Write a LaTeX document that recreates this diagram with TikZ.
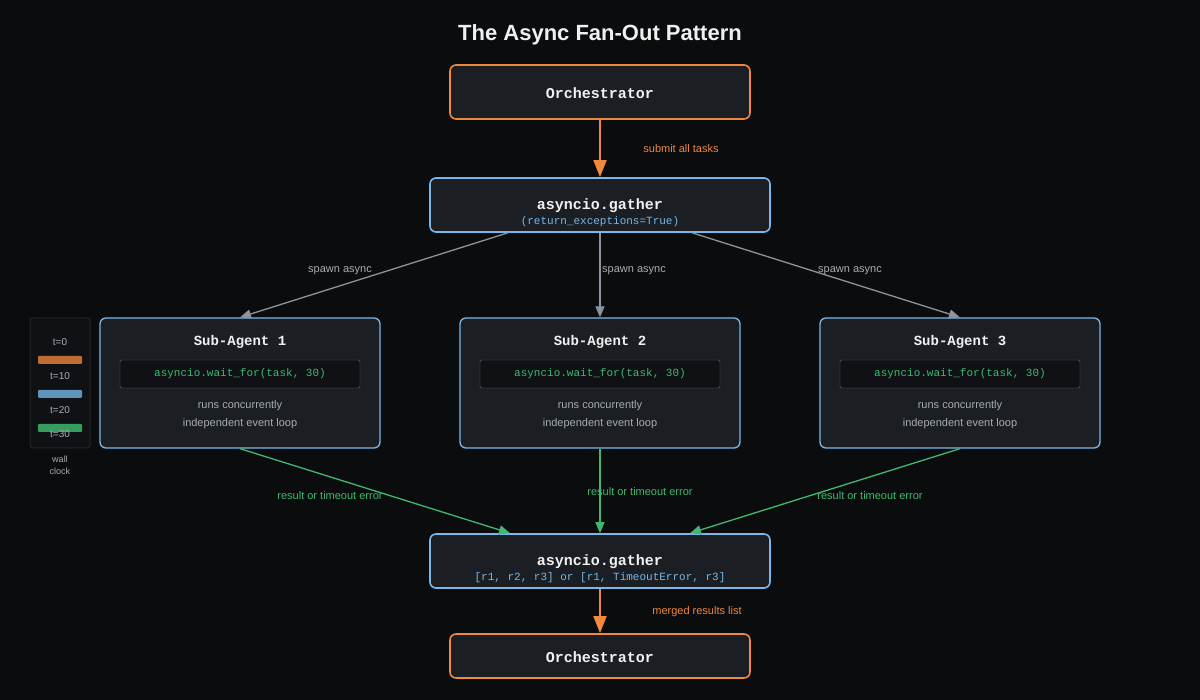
\documentclass[tikz,border=0pt]{standalone}
\usepackage{fontspec}
\setmainfont{Liberation Sans}
\setmonofont{Liberation Mono}
\usetikzlibrary{arrows.meta,calc}
\definecolor{bg}{HTML}{0B0C0E}
\definecolor{boxf}{HTML}{1B1E23}
\definecolor{codef}{HTML}{0F1114}
\definecolor{org}{HTML}{F0883E}
\definecolor{blu}{HTML}{79B8E8}
\definecolor{grn}{HTML}{3FB970}
\definecolor{gry}{HTML}{8B949E}
\definecolor{txt}{HTML}{F0F0F0}
\definecolor{sub}{HTML}{A8ADB3}
\begin{document}
\begin{tikzpicture}[x=1pt,y=-1pt,
 box/.style={draw,line width=1.6pt,rounded corners=6pt,fill=boxf,inner sep=0pt},
 obox/.style={box,draw=org,minimum width=300pt,minimum height=54pt},
 gbox/.style={box,draw=blu,minimum width=340pt,minimum height=54pt},
 abox/.style={box,draw=blu,line width=1.3pt,minimum width=280pt,minimum height=130pt},
 cbox/.style={fill=codef,draw=black!60,rounded corners=2pt,minimum width=240pt,minimum height=28pt,inner sep=0pt,font=\ttfamily\fontsize{11}{11}\selectfont,text=grn},
 mt/.style={font=\ttfamily\bfseries\fontsize{15}{15}\selectfont,text=txt},
 agt/.style={font=\ttfamily\bfseries\fontsize{14}{14}\selectfont,text=txt},
 st/.style={font=\ttfamily\fontsize{11}{11}\selectfont,text=blu},
 gt/.style={font=\fontsize{11}{11}\selectfont,text=sub},
 lab/.style={font=\fontsize{11}{11}\selectfont},
 oarr/.style={org,line width=1.8pt,-{Triangle[length=17pt,width=13pt]}},
 garr/.style={gry,line width=1.3pt,-{Triangle[length=11pt,width=9pt]}},
 rarr/.style={grn,line width=1.3pt,-{Triangle[length=11pt,width=9pt]}}]
\fill[bg] (0,0) rectangle (1200,700);
\useasboundingbox (0,0) rectangle (1200,700);
\node[font=\bfseries\fontsize{22}{22}\selectfont,text=txt] (title) at (600,35) {The Async Fan-Out Pattern};
\node[obox] (o1) at (600,92) {};
\node[mt] (o1t) at (600,93) {Orchestrator};
\node[gbox] (g1) at (600,205) {};
\node[mt] (g1t) at (600,206) {asyncio.gather};
\node[st] (g1s) at (600,222) {(return\_exceptions=True)};
\foreach \i/\x in {1/240,2/600,3/960}{
 \node[abox] (a\i) at (\x,383) {};
 \node[agt] (a\i t) at (\x,342) {Sub-Agent \i};
 \node[cbox] (c\i) at (\x,374) {asyncio.wait\_for(task, 30)};
 \node[gt] (r\i) at (\x,406) {runs concurrently};
 \node[gt] (e\i) at (\x,424) {independent event loop};
}
\node[gbox] (g2) at (600,561) {};
\node[mt] (g2t) at (600,562) {asyncio.gather};
\node[st] (g2s) at (600,578) {[r1, r2, r3] or [r1, TimeoutError, r3]};
\node[obox,minimum height=44pt] (o2) at (600,656) {};
\node[mt] (o2t) at (600,657) {Orchestrator};
% legend
\node[draw=black!70!gray,fill=codef,rounded corners=3pt,line width=1pt,minimum width=60pt,minimum height=130pt,inner sep=0pt] (lg) at (60,383) {};
\node[gt,font=\fontsize{10}{10}\selectfont] (l0) at (60,342) {t=0};
\fill[org!80!black,rounded corners=1pt] (38,356) rectangle (82,364);
\node[gt,font=\fontsize{10}{10}\selectfont] (l1) at (60,376) {t=10};
\fill[blu!80!black,rounded corners=1pt] (38,390) rectangle (82,398);
\node[gt,font=\fontsize{10}{10}\selectfont] (l2) at (60,410) {t=20};
\fill[grn!85!black,rounded corners=1pt] (38,424) rectangle (82,432);
\node[gt,font=\fontsize{10}{10}\selectfont] (l3) at (60,434) {t=30};
\node[gt,font=\fontsize{9}{9}\selectfont] (w1) at (60,459) {wall};
\node[gt,font=\fontsize{9}{9}\selectfont] (w2) at (60,471) {clock};
% arrows
\draw[oarr] (o1.south) -- (g1.north);
\node[lab,text=org] (l_sub) at (681,149) {submit all tasks};
\draw[garr] ($(g1.south)+(-92,0)$) -- (a1.north);
\draw[garr] (g1.south) -- (a2.north);
\draw[garr] ($(g1.south)+(92,0)$) -- (a3.north);
\node[lab,text=sub] (s1) at (340,271) {spawn async};
\node[lab,text=sub] (s2) at (634,271) {spawn async};
\node[lab,text=sub] (s3) at (850,271) {spawn async};
\draw[rarr] (a1.south) -- ($(g2.north)+(-90,0)$);
\draw[rarr] (a2.south) -- (g2.north);
\draw[rarr] (a3.south) -- ($(g2.north)+(90,0)$);
\node[lab,text=grn] (t1) at (330,496) {result or timeout error};
\node[lab,text=grn] (t2) at (640,492) {result or timeout error};
\node[lab,text=grn] (t3) at (870,496) {result or timeout error};
\draw[oarr] (g2.south) -- (o2.north);
\node[lab,text=org] (l_m) at (697,612) {merged results list};
\end{tikzpicture}
\end{document}
